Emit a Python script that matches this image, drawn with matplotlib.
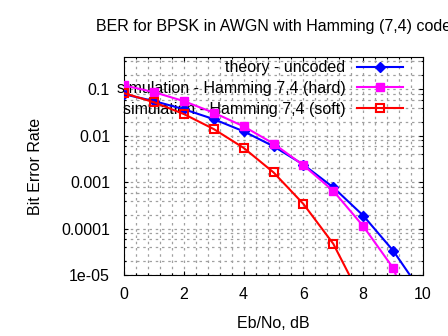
import matplotlib
matplotlib.use("Agg")
import matplotlib.pyplot as plt
from matplotlib.ticker import FixedLocator, FixedFormatter, LogLocator, MultipleLocator, NullFormatter

plt.rcParams["font.family"] = ["Liberation Sans", "DejaVu Sans"]

# Eb/No (dB) and measured / theoretical bit error rates
ebno = [0, 1, 2, 3, 4, 5, 6, 7, 8, 9, 10]
ber_theory = [0.0786, 0.0563, 0.0375, 0.0229, 0.0125, 0.00595, 0.00239, 0.000773, 0.000191, 3.36e-5, 3.87e-6]
ber_hard = [0.122, 0.0875, 0.056, 0.0315, 0.016, 0.0068, 0.00232, 0.00065, 0.000113, 1.42e-5, 3.5e-7]
ebno_soft = [0, 1, 2, 3, 4, 5, 6, 7, 8]
ber_soft = [0.083, 0.053, 0.0295, 0.014, 0.0055, 0.00163, 0.00034, 4.7e-5, 2.6e-6]

ytick_vals = [0.1, 0.01, 0.001, 0.0001, 1e-05]
ytick_labels = ["0.1", "0.01", "0.001", "0.0001", "1e-05"]
xtick_vals = [0, 2, 4, 6, 8, 10]

fs = 11.5
fig = plt.figure(figsize=(4.48, 3.36), dpi=100)
ax = fig.add_axes([124 / 448, 1 - 275 / 336, 299 / 448, 218 / 336])

ax.semilogy(ebno, ber_theory, color="#0000ff", lw=1.5, marker="D", ms=5,
            label="theory - uncoded", zorder=3)
ax.semilogy(ebno, ber_hard, color="#ff00ff", lw=1.5, marker="s", ms=6,
            label="simulation - Hamming 7,4 (hard)", zorder=3)
ax.semilogy(ebno_soft, ber_soft, color="#ff0000", lw=1.5, marker="s", ms=5.5,
            mfc="none", mew=1.5, label="simulation - Hamming 7,4 (soft)", zorder=3)

ax.set_xlim(0, 10)
ax.set_ylim(1e-5, 0.5)
ax.xaxis.set_major_locator(FixedLocator(xtick_vals))
ax.xaxis.set_minor_locator(MultipleLocator(0.4))
ax.yaxis.set_major_locator(FixedLocator(ytick_vals))
ax.yaxis.set_major_formatter(FixedFormatter(ytick_labels))
ax.yaxis.set_minor_locator(LogLocator(base=10, subs=[2, 4, 6, 8]))
ax.yaxis.set_minor_formatter(NullFormatter())

ax.tick_params(which="both", direction="in", top=True, right=True, labelsize=fs)
ax.tick_params(which="major", length=3, width=0.8)
ax.tick_params(which="minor", length=1.5, width=0.8)
ax.tick_params(axis="x", pad=8.5)
ax.tick_params(axis="y", pad=10)

ax.grid(which="both", color="#a0a0a0", lw=0.9, ls=(0, (2, 3)))
ax.set_axisbelow(True)
for s in ax.spines.values():
    s.set_linewidth(0.8)

ax.set_title("BER for BPSK in AWGN with Hamming (7,4) code", fontsize=fs, pad=18.5)
ax.set_xlabel("Eb/No, dB", fontsize=fs, labelpad=10)
ax.set_ylabel("Bit Error Rate", fontsize=fs)
ax.yaxis.set_label_coords(-0.27, 0.5)

leg = ax.legend(loc="upper right", bbox_to_anchor=(0.933, 0.985), frameon=False,
                markerfirst=False, fontsize=fs, handlelength=2.9, handletextpad=0.7,
                labelspacing=0.36, borderpad=0, borderaxespad=0)
leg.set_zorder(1)

fig.savefig("out.png", dpi=100)
